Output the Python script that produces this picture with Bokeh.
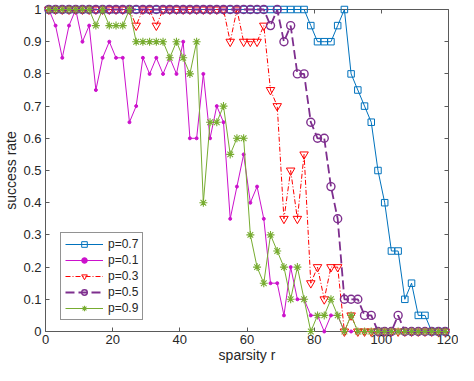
from bokeh.plotting import figure
from bokeh.models import Range1d, FixedTicker, LinearAxis, Legend, LegendItem
from bokeh.embed import file_html
from bokeh.resources import INLINE

# ---------------- data ----------------
sparsity = [1, 3, 5, 7, 9, 11, 13, 15, 17, 19,
            21, 23, 25, 27, 29, 31, 33, 35, 37, 39,
            41, 43, 45, 47, 49, 51, 53, 55, 57, 59,
            61, 63, 65, 67, 69, 71, 73, 75, 77, 79,
            81, 83, 85, 87, 89, 91, 93, 95, 97, 99,
            101, 103, 105, 107, 109, 111, 113, 115, 117, 119]

rate_p07 = [1, 1, 1, 1, 1, 1, 1, 1, 1, 1,
            1, 1, 1, 1, 1, 1, 1, 1, 1, 1,
            1, 1, 1, 1, 1, 1, 1, 1, 1, 1,
            1, 1, 1, 1, 1, 1, 1, 1, 1, 0.95,
            0.9, 0.9, 0.9, 0.95, 1, 0.8, 0.75, 0.7, 0.65, 0.5,
            0.4, 0.25, 0.25, 0.1, 0.15, 0.05, 0.05, 0, 0, 0]

rate_p01 = [1, 0.95, 0.85, 0.95, 1, 0.9, 0.95, 0.75, 0.85, 0.9,
            0.85, 0.85, 0.65, 0.7, 0.85, 0.8, 0.85, 0.8, 0.85, 0.8,
            0.9, 0.6, 0.6, 0.8, 0.6, 0.7, 0.65, 0.35, 0.45, 0.55,
            0.4, 0.45, 0.35, 0.15, 0.15, 0.05, 0.2, 0.1, 0.1, 0.05,
            0.05, 0, 0.05, 0.05, 0, 0, 0, 0, 0, 0,
            0, 0, 0, 0, 0, 0, 0, 0, 0, 0]

rate_p03 = [1, 1, 1, 1, 1, 1, 1, 1, 1, 1,
            1, 1, 1, 0.95, 1, 1, 0.95, 1, 1, 1,
            1, 1, 1, 1, 1, 1, 1, 0.9, 1, 0.9,
            0.9, 0.9, 0.95, 0.75, 0.7, 0.35, 0.5, 0.35, 0.55, 0.15,
            0.2, 0.1, 0.2, 0.2, 0, 0.05, 0, 0, 0, 0,
            0, 0, 0, 0, 0, 0, 0, 0, 0, 0]

rate_p05 = [1, 1, 1, 1, 1, 1, 1, 1, 1, 1,
            1, 1, 1, 1, 1, 1, 1, 1, 1, 1,
            1, 1, 1, 1, 1, 1, 1, 1, 1, 1,
            1, 1, 1, 0.95, 1, 0.9, 0.95, 0.8, 0.8, 0.65,
            0.6, 0.6, 0.45, 0.35, 0.1, 0.1, 0.1, 0.05, 0.05, 0,
            0, 0, 0.05, 0, 0, 0, 0, 0, 0, 0]

rate_p09 = [1, 1, 1, 1, 1, 1, 1, 0.95, 1, 0.95,
            0.95, 0.95, 1, 0.9, 0.9, 0.9, 0.9, 0.9, 0.85, 0.9,
            0.85, 0.8, 0.9, 0.4, 0.65, 0.65, 0.7, 0.55, 0.6, 0.6,
            0.3, 0.2, 0.15, 0.3, 0.25, 0.2, 0.1, 0.2, 0.1, 0,
            0.05, 0.05, 0.1, 0.05, 0, 0.05, 0, 0, 0, 0,
            0, 0, 0, 0, 0, 0, 0, 0, 0, 0]

series_labels = ["p=0.7", "p=0.1", "p=0.3", "p=0.5", "p=0.9"]
x_ticks = [0, 20, 40, 60, 80, 100, 120]
y_ticks = [0, 0.1, 0.2, 0.3, 0.4, 0.5, 0.6, 0.7, 0.8, 0.9, 1]
y_tick_labels = ["0", "0.1", "0.2", "0.3", "0.4", "0.5", "0.6", "0.7", "0.8", "0.9", "1"]

# ---------------- style ----------------
FONT = "Liberation Sans"
AX = "#5a5a5a"
TXT = "#262626"

p = figure(width=458, height=365, x_range=Range1d(0, 120), y_range=Range1d(0, 1),
           output_backend="svg", toolbar_location=None,
           min_border_left=0, min_border_right=10, min_border_top=9, min_border_bottom=0)
p.grid.visible = False
p.outline_line_color = AX
p.outline_line_width = 1

def style_axis(ax, ticks):
    ax.ticker = FixedTicker(ticks=ticks)
    ax.axis_line_color = AX
    ax.axis_line_width = 1
    ax.major_tick_line_color = AX
    ax.major_tick_in = 4
    ax.major_tick_out = 0
    ax.minor_tick_line_color = None
    ax.major_label_text_font = FONT
    ax.major_label_text_font_size = "13px"
    ax.major_label_text_color = TXT
    ax.axis_label_text_font = FONT
    ax.axis_label_text_font_size = "14px"
    ax.axis_label_text_font_style = "normal"
    ax.axis_label_text_color = TXT

xa = p.xaxis[0]
style_axis(xa, x_ticks)
xa.axis_label = "sparsity r"
xa.major_label_standoff = 3
xa.axis_label_standoff = 0

ya = p.yaxis[0]
style_axis(ya, y_ticks)
ya.axis_label = "success rate"
ya.major_label_standoff = 4
ya.axis_label_standoff = 1
ya.major_label_overrides = dict(zip(y_ticks, y_tick_labels))

# mirrored ticks (box) on top and right
top = LinearAxis()
style_axis(top, x_ticks)
top.major_label_overrides = {t: "" for t in x_ticks}
top.major_label_standoff = 0
top.axis_line_color = None
p.add_layout(top, "above")

right = LinearAxis()
style_axis(right, y_ticks)
right.major_label_overrides = {t: "" for t in y_ticks}
right.major_label_standoff = 0
right.axis_line_color = None
p.add_layout(right, "right")

BLUE = "#0072BD"
MAG = "#CC11CC"
RED = "#FF0000"
PURP = "#7E2F8E"
GREEN = "#77AC30"

specs = [
    (rate_p07, BLUE, "solid", 1.0, "square", 6.5, False, 1.0),
    (rate_p01, MAG, "solid", 1.0, "circle", 3, True, 1.0),
    (rate_p03, RED, "5 2 1 2", 1.0, "inverted_triangle", 8.5, False, 1.0),
    (rate_p05, PURP, "9 4", 1.8, "circle", 8, False, 1.4),
    (rate_p09, GREEN, "solid", 1.0, "asterisk", 8, False, 1.1),
]

items = []
for lab, (ys, col, dash, lw, mk, ms, filled, mlw) in zip(series_labels, specs):
    r1 = p.line(sparsity, ys, line_color=col, line_width=lw, line_dash=dash, level="overlay")
    r2 = p.scatter(sparsity, ys, marker=mk, size=ms, line_color=col,
                   fill_color=col if filled else None, line_width=mlw, level="overlay")
    items.append(LegendItem(label=lab, renderers=[r1, r2]))

legend = Legend(items=items, location=(15, 11))
legend.label_text_font = FONT
legend.label_text_font_size = "12px"
legend.label_text_color = TXT
legend.glyph_width = 38
legend.glyph_height = 14
legend.label_height = 14
legend.spacing = 2
legend.padding = 4
legend.margin = 0
legend.label_standoff = 5
legend.border_line_color = TXT
legend.border_line_width = 1
legend.background_fill_color = "white"
legend.background_fill_alpha = 1
p.add_layout(legend)

open("out.html", "w").write(file_html(p, INLINE))
